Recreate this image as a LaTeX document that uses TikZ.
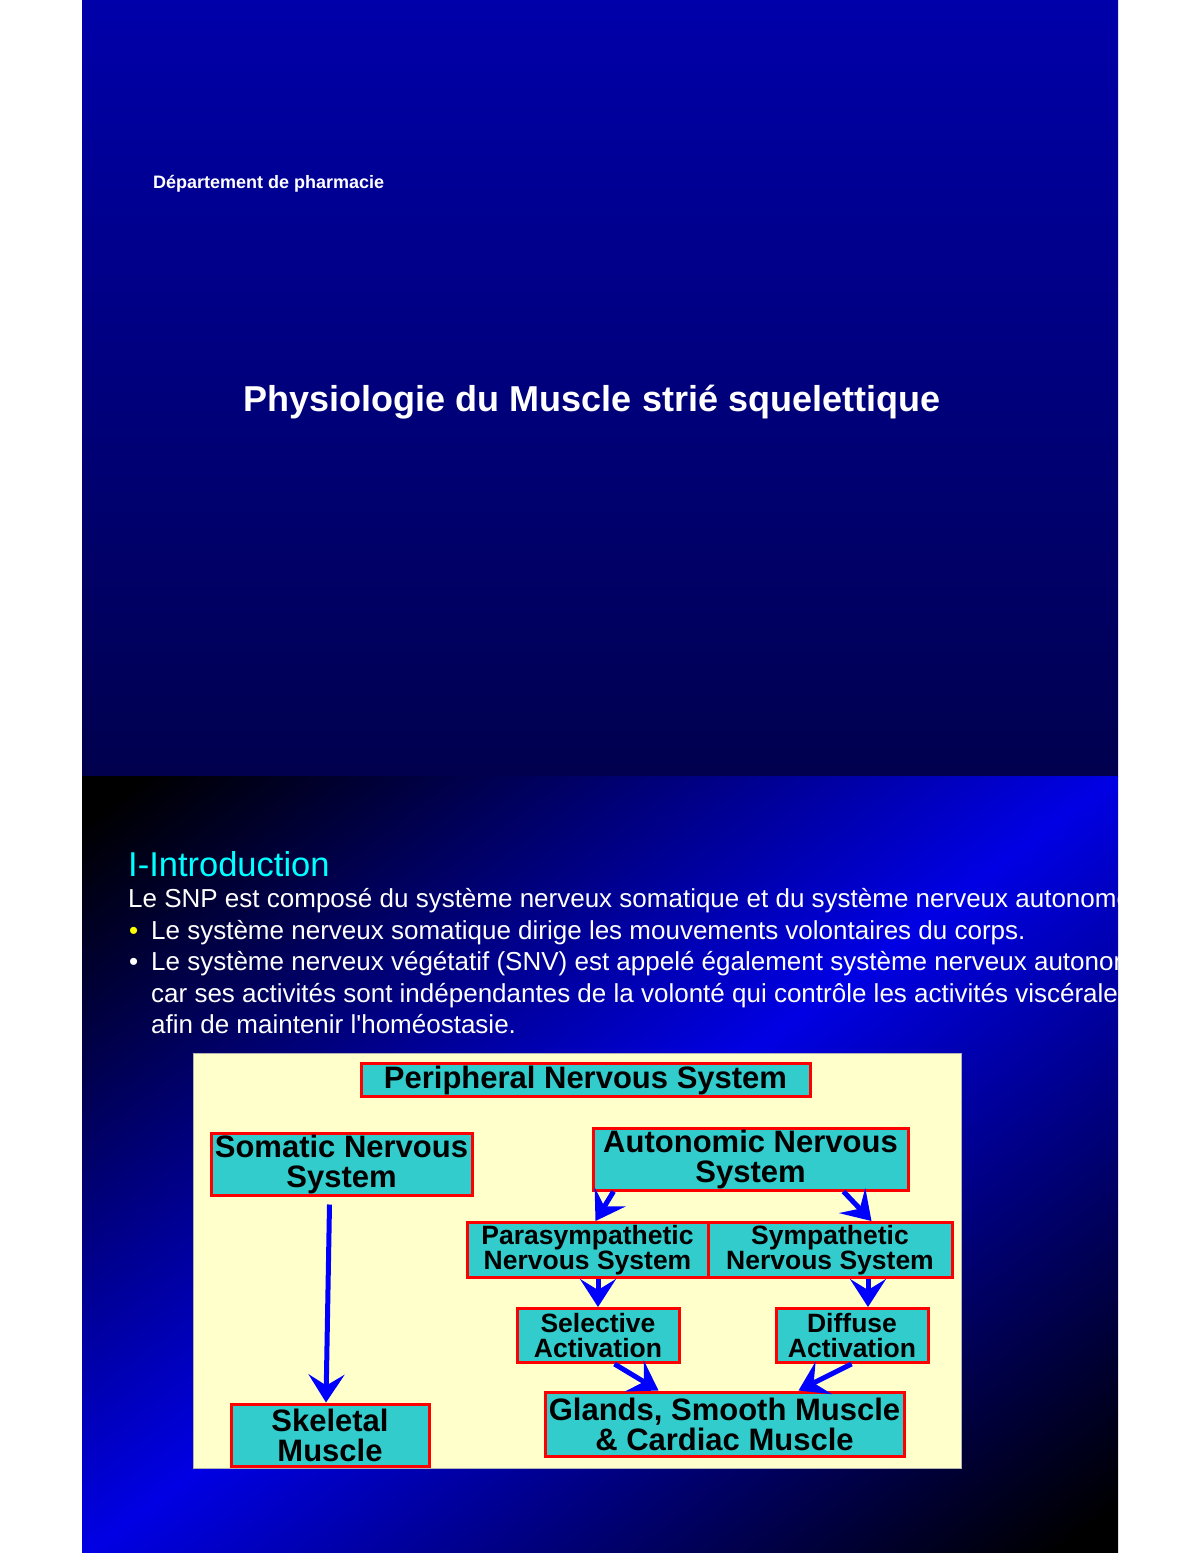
\documentclass[tikz,border=0pt]{standalone}
\usepackage{fontspec}
\setmainfont{Liberation Sans}[Ligatures=TeXOff]
\usetikzlibrary{arrows.meta, positioning}
\definecolor{slidetop}{RGB}{0,0,170}
\definecolor{slidebottom}{RGB}{0,0,78}
\definecolor{glowblue}{RGB}{0,0,228}
\definecolor{panelyellow}{RGB}{255,255,204}
\definecolor{boxteal}{RGB}{51,204,204}
\definecolor{headcyan}{RGB}{0,255,255}
\definecolor{bulletyellow}{RGB}{255,255,0}
\pgfdeclarehorizontalshading{slideglow}{100bp}{color(0bp)=(black); color(17bp)=(black); color(50bp)=(glowblue); color(83bp)=(black); color(100bp)=(black)}

\begin{document}
\begin{tikzpicture}[
  x=1pt, y=-1pt,
  body/.style={anchor=base west, text=white, inner sep=0pt, font=\fontsize{26}{28}\selectfont},
  nbox/.style={draw=red, line width=3pt, fill=boxteal, inner sep=0pt, align=center, font=\fontsize{31}{30}\selectfont\bfseries},
  sbox/.style={nbox, font=\fontsize{26.5}{25}\selectfont\bfseries},
  arr/.style={-{Stealth[length=28pt, width=36pt, inset=11pt]}, line width=5pt, blue}
]
  \useasboundingbox (0,0) rectangle (1200,1553);
  \fill[white] (0,0) rectangle (1200,1553);

  % title slide
  \shade[top color=slidetop, bottom color=slidebottom] (82,0) rectangle (1118,776);
  \node[anchor=base west, text=white, inner sep=0pt, font=\fontsize{18}{20}\selectfont\bfseries] (dept) at (153,188) {Département de pharmacie};
  \node[anchor=base, text=white, inner sep=0pt, font=\fontsize{36}{38}\selectfont\bfseries] (title) at (592,411) {Physiologie du Muscle strié squelettique};

  % second slide
  \shade[shading=slideglow, shading angle=-53] (82,776) rectangle (1118,1553);
  \begin{scope}
    \clip (82,776) rectangle (1118,1553);
    \node[body, text=headcyan, font=\fontsize{34.5}{36}\selectfont] (intro) at (128,876) {I-Introduction};
    \node[body] (line1) at (128,907) {Le SNP est composé du système nerveux somatique et du système nerveux autonome.};
    \node[body, text=bulletyellow] (dot1) at (129,939) {•};
    \node[body] (line2) at (151,939) {Le système nerveux somatique dirige les mouvements volontaires du corps.};
    \node[body] (dot2) at (129,970) {•};
    \node[body] (line3) at (151,970) {Le système nerveux végétatif (SNV) est appelé également système nerveux autonome};
    \node[body] (line4) at (151,1002) {car ses activités sont indépendantes de la volonté qui contrôle les activités viscérales};
    \node[body] (line5) at (151,1033) {afin de maintenir l'homéostasie.};
  \end{scope}

  \fill[panelyellow, draw=gray!60, line width=0.8pt] (193,1053) rectangle (961,1468);

  \node[nbox, minimum width=449pt, minimum height=33pt, font=\fontsize{31}{30}\selectfont\bfseries] (pns) at (585.5,1080) {Peripheral Nervous System};
  \node[nbox, minimum width=261pt, minimum height=62pt] (soma) at (341.5,1164) {Somatic Nervous\\System};
  \node[nbox, minimum width=315pt, minimum height=62pt] (auto) at (750.5,1159) {Autonomic Nervous\\System};
  \node[sbox, minimum width=241pt, minimum height=55pt] (para) at (587.5,1250) {Parasympathetic\\Nervous System};
  \node[sbox, minimum width=244pt, minimum height=55pt] (symp) at (830,1250) {Sympathetic\\Nervous System};
  \node[sbox, minimum width=162pt, minimum height=54pt] (sel) at (598,1335.5) {Selective\\Activation};
  \node[sbox, minimum width=152pt, minimum height=54pt] (diff) at (852,1335.5) {Diffuse\\Activation};
  \node[nbox, minimum width=198pt, minimum height=62pt] (skel) at (330,1435) {Skeletal\\Muscle};
  \node[nbox, minimum width=359pt, minimum height=64pt] (glands) at (724.5,1424) {Glands, Smooth Muscle\\\& Cardiac Muscle};

  \draw[arr] ([xshift=-12pt, yshift=-8pt]soma.south) -- ([xshift=-4pt]skel.north);
  \draw[arr] ([xshift=22pt]auto.south west) -- ([xshift=130pt]para.north west);
  \draw[arr] ([xshift=-66pt]auto.south east) -- ([xshift=-82pt]symp.north east);
  \draw[arr] (sel.north |- para.south) -- (sel.north);
  \draw[arr] ([xshift=16pt]diff.north |- symp.south) -- ([xshift=16pt]diff.north);
  \draw[arr] ([xshift=-66pt]sel.south east) -- ([xshift=115pt]glands.north west);
  \draw[arr] ([xshift=77pt]diff.south west) -- ([xshift=-107pt]glands.north east);
\end{tikzpicture}
\end{document}
